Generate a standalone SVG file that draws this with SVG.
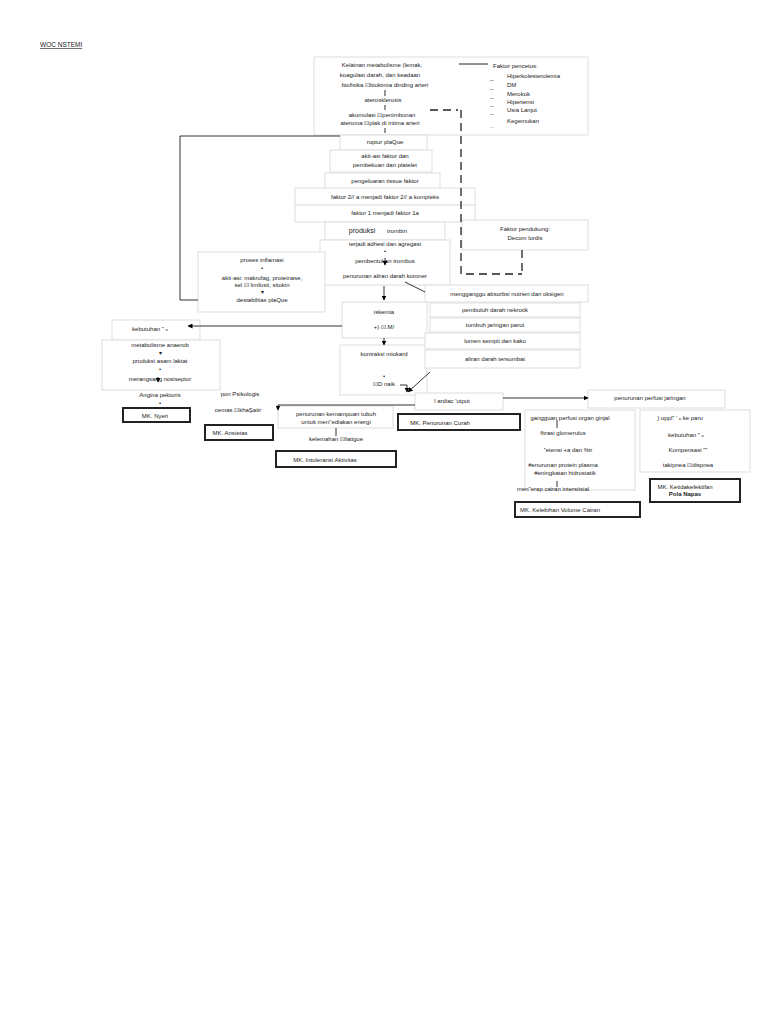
<svg xmlns="http://www.w3.org/2000/svg" width="768" height="1024" viewBox="0 0 768 1024">
<defs>
<marker id="a" viewBox="0 0 10 10" refX="9" refY="5" markerWidth="5" markerHeight="5" orient="auto"><path d="M0,0L10,5L0,10z" fill="#000"/></marker>
<style>
text{font-family:"Liberation Sans",Arial,sans-serif;font-size:6px;fill:#222;text-anchor:middle}
.l{text-anchor:start}
.b{fill:#fff;stroke:#ddd;stroke-width:1}
.mk{fill:#fff;stroke:#222;stroke-width:2}
.c{stroke:#333;stroke-width:1;fill:none}
.d{stroke:#222;stroke-width:1.3;fill:none;stroke-dasharray:8,5}
</style>
</defs>
<rect width="768" height="1024" fill="#fff"/>
<text class="l" x="40" y="47" style="font-size:6.5px;text-decoration:underline">WOC NSTEMI</text>
<g id="top">
<rect class="b" x="314" y="57" width="274" height="78"/>
<text x="382" y="67">Kelainan metabolisme (lemak,</text>
<text x="380" y="77">koagulasi darah, dan keadaan</text>
<text x="385" y="87">biofisika ⊡biokimia dinding    arteri</text>
<text x="383" y="102">aterosklerosis</text>
<text x="382" y="117">akumulasi  ⊡penimbunan</text>
<text x="380" y="125">ateroma ⊡plak di intima arteri</text>
<text class="l" x="493" y="68">Faktor pencetus:</text>
<text class="l" x="507" y="78">Hiperkolesterolemia</text>
<text class="l" x="507" y="87">DM</text>
<text class="l" x="507" y="96">Merokok</text>
<text class="l" x="507" y="104">Hipertensi</text>
<text class="l" x="507" y="112">Usia Lanjut</text>
<text class="l" x="507" y="123">Kegemukan</text>
<text class="l" x="490" y="80">_</text><text class="l" x="490" y="89">_</text><text class="l" x="490" y="98">_</text><text class="l" x="490" y="106">_</text><text class="l" x="490" y="114">_</text><text class="l" x="490" y="127" style="font-weight:bold">_</text>
</g>
<g id="chain">
<rect class="b" x="340" y="135" width="87" height="15"/><text x="385" y="144">ruptur plaQue</text>
<rect class="b" x="330" y="150" width="102" height="22"/><text x="385" y="158">akti-asi faktor dan</text><text x="385" y="167">pembekuan dan platelet</text>
<rect class="b" x="325" y="173" width="115" height="16"/><text x="385" y="183">pengeluaran tissue faktor</text>
<rect class="b" x="295" y="188" width="180" height="17"/><text x="385" y="199">faktor 2// a menjadi faktor 2// a kompleks</text>
<rect class="b" x="295" y="205" width="180" height="17"/><text x="385" y="215">faktor 1 menjadi faktor 1a</text>
<rect class="b" x="325" y="222" width="120" height="18"/><text x="362" y="233" style="font-size:7px">produksi</text><text x="397" y="233">trombin</text>
<rect class="b" x="320" y="240" width="130" height="45"/>
<text x="385" y="246">terjadi adhesi dan agregasi</text><text x="385" y="253">•</text>
<text x="385" y="263">pembentukan trombus</text>
<text x="385" y="278">penurunan aliran darah koroner</text>
</g>
<g id="faktor-pendukung"><rect class="b" x="462" y="220" width="126" height="30"/><text x="525" y="231">Faktor pendukung:</text><text x="525" y="240">Decom lordis</text></g>
<g id="inflamasi">
<rect class="b" x="198" y="252" width="127" height="60"/>
<text x="262" y="262">proses inflamasi</text><text x="262" y="270">•</text>
<text x="262" y="280">akti-asi: makrofag, proteinase,</text><text x="262" y="287">sel  ⊡ limfosit, sitokin</text>
<text x="262" y="294">▾</text><text x="262" y="302">destabilitas plaQue</text>
</g>
<g id="iskemia"><rect class="b" x="342" y="302" width="85" height="36"/><text x="384" y="314">iskemia</text><text x="384" y="329">+)  ⊡.M/</text></g>
<g id="kontraksi"><rect class="b" x="340" y="345" width="87" height="50"/><text x="384" y="356">kontraksi miokard</text><text x="384" y="378">•</text><text x="384" y="386">⊡D naik</text></g>
<g id="right-stack">
<rect class="b" x="425" y="285" width="163" height="17"/><text x="507" y="296">mengganggu absorbsi nutrien dan oksigen</text>
<rect class="b" x="430" y="303" width="150" height="14"/><text x="495" y="312">pembuluh darah nekrotik</text>
<rect class="b" x="430" y="318" width="150" height="14"/><text x="495" y="327">tumbuh jaringan parut</text>
<rect class="b" x="425" y="333" width="155" height="16"/><text x="495" y="343">lumen sempit dan kaku</text>
<rect class="b" x="425" y="350" width="155" height="18"/><text x="495" y="361">aliran darah tersumbat</text>
</g>
<g id="cardiac"><rect class="b" x="415" y="393" width="88" height="17"/><text x="452" y="403">l ardiac 'utput</text></g>
<g id="mk-curah"><rect class="mk" x="398" y="414" width="122" height="16"/><text x="440" y="425">MK. Penurunan Curah</text></g>
<g id="perfusi"><rect class="b" x="588" y="390" width="137" height="18"/><text x="650" y="400">penurunan perfusi jaringan</text></g>
<g id="left-stack">
<rect class="b" x="112" y="320" width="88" height="20"/><text x="150" y="331">kebutuhan "   ₒ</text>
<rect class="b" x="102" y="340" width="118" height="50"/>
<text x="160" y="347">metabolisme anaerob</text><text x="160" y="355">▾</text>
<text x="160" y="363">produksi asam laktat</text><text x="160" y="371">•</text>
<text x="160" y="381">merangsang nosiseptor</text>
<text x="160" y="397">Angina pektoris</text><text x="160" y="405">•</text>
</g>
<g id="mk-nyeri"><rect class="mk" x="123" y="408" width="67" height="14"/><text x="155" y="418">MK. Nyeri</text></g>
<g id="psikologis"><text x="240" y="396">pon Psikologis</text><text x="238" y="412">cemas  ⊡khaŞatir</text></g>
<g id="mk-ansietas"><rect class="mk" x="205" y="425" width="68" height="15"/><text x="230" y="435">MK. Ansietas</text></g>
<g id="kemampuan"><rect class="b" x="278" y="406" width="115" height="22"/><text x="336" y="416">penurunan kemampuan tubuh</text><text x="336" y="424">untuk men"ediakan energi</text>
<text x="336" y="441">kelemahan  ⊡fatigue</text></g>
<g id="mk-intoleransi"><rect class="mk" x="276" y="451" width="120" height="16"/><text x="325" y="462">MK. Intoleransi Aktivitas</text></g>
<g id="ginjal">
<rect class="b" x="525" y="410" width="110" height="80"/>
<text x="570" y="420">gangguan perfusi organ ginjal</text>
<text x="563" y="435">fitrasi glomerulus</text>
<text x="568" y="452">"etensi +a dan %ir</text>
<text x="563" y="467">#enurunan protein plasma</text><text x="565" y="475">#eningkatan hidrostatik</text>
<text x="553" y="491">men"erap cairan      interstisial</text>
</g>
<g id="mk-volume"><rect class="mk" x="515" y="502" width="125" height="15"/><text x="560" y="512">MK. Kelebihan Volume Cairan</text></g>
<g id="paru">
<rect class="b" x="640" y="410" width="110" height="62"/>
<text x="680" y="420">} uppl" '   ₒ ke paru</text>
<text x="686" y="437">kebutuhan "   ₒ</text>
<text x="688" y="452">Kompensasi ""</text>
<text x="688" y="467">takipnea  ⊡dispnea</text>
</g>
<g id="mk-pola"><rect class="mk" x="650" y="479" width="90" height="23"/><text x="685" y="489">MK. Ketidakefektifan</text><text x="685" y="496" style="font-weight:bold">Pola Napas</text></g>
<g id="connectors">
<path class="c" d="M340,136H180V300H198"/>
<path class="d" d="M430,110H458M461,110V274H522M522,250V272"/>
<line x1="459" y1="64" x2="488" y2="64" stroke="#222" stroke-width="1"/>
<path class="c" d="M385,90V96M385,105V110M385,128V133M385,258V265" marker-end="url(#a)"/>
<path class="c" d="M384,286V300" marker-end="url(#a)"/>
<path class="c" d="M384,338V345" marker-end="url(#a)"/>
<path class="c" d="M342,326H188" marker-end="url(#a)"/>
<path class="c" d="M405,282L425,292"/>
<path class="c" d="M430,372L408,392" marker-end="url(#a)"/>
<path class="c" d="M400,385H407V392" marker-end="url(#a)"/>
<path class="c" d="M503,398H588" marker-end="url(#a)"/>
<path class="c" d="M415,405H278V410" marker-end="url(#a)"/>
<path class="c" d="M336,428V436M557,420V428M557,481V487M158,377V382" marker-end="url(#a)"/>
</g>
</svg>
